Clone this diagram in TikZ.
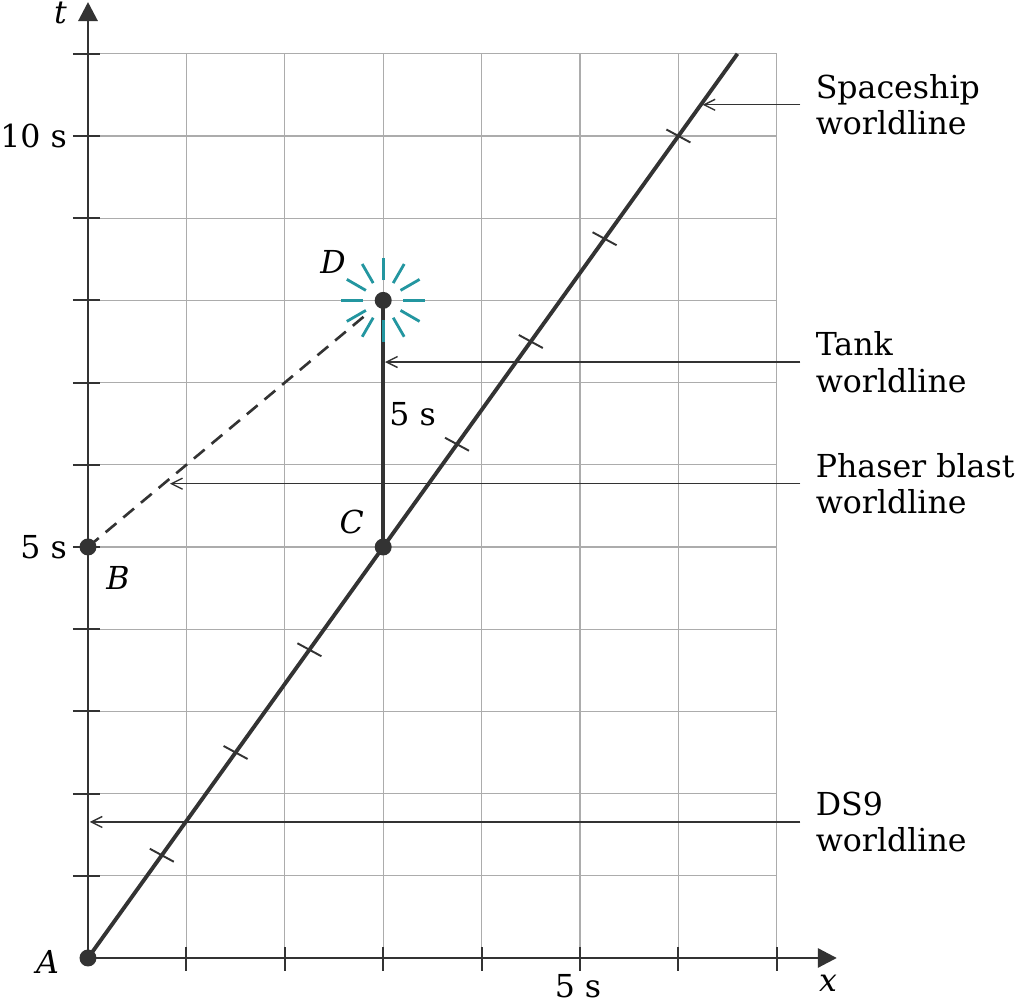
\documentclass[tikz,border=0pt]{standalone}
\usepackage{fontspec}
\setmainfont{DejaVu Serif}
\usepackage{tikz}
\usetikzlibrary{arrows.meta, positioning}
\definecolor{flash}{RGB}{35,150,160}

\begin{document}
\begin{tikzpicture}[x=1.968cm,y=1.644cm,
    font=\fontsize{18}{21}\selectfont,
    gridline/.style={gray!65,line width=0.7pt},
    axis/.style={black!80,line width=1.7pt,-{Triangle[width=0.38cm,length=0.38cm]}},
    axistick/.style={black!80,line width=1.2pt},
    worldline/.style={black!80,line width=2.2pt},
    propertick/.style={black!80,line width=1.1pt},
    event/.style={fill=black!80},
    pointer/.style={black!80,line width=0.8pt,-{Straight Barb[length=0.22cm,width=0.22cm]},shorten >=1pt},
    caption/.style={anchor=west,align=left,inner xsep=0.3cm,inner ysep=0pt}]
  \useasboundingbox (-1.76cm,-0.98cm) rectangle (18.72cm,19.16cm);
  % grid
  \foreach \i in {1,...,7} \draw[gridline] (\i,0) -- (\i,11);
  \foreach \j in {1,...,11} \draw[gridline] (0,\j) -- (7,\j);
  % axes
  \draw[axis] (0,0) -- (7.61,0);
  \draw[axis] (0,0) -- (0,11.63);
  \foreach \j in {1,...,11} \draw[axistick] ([xshift=-0.3cm]0,\j) -- ([xshift=0.24cm]0,\j);
  \foreach \i in {1,...,7} \draw[axistick] ([yshift=-0.26cm]\i,0) -- ([yshift=0.22cm]\i,0);
  \node (tlbl) at (-0.28,11.5) {\textit{t}};
  \node (xlbl) at (7.52,-0.31) {\textit{x}};
  \node[left=0.3cm] (tenlbl) at (0,10) {10 s};
  \node[left=0.3cm] (fivelbl) at (0,5) {5 s};
  \node[below=0.2cm] (xfivelbl) at (4.98,0) {5 s};
  % events
  \coordinate (A) at (0,0);
  \coordinate (B) at (0,5);
  \coordinate (C) at (3,5);
  \coordinate (D) at (3,8);
  \coordinate (shipend) at (6.6,11);
  % worldlines
  \draw[worldline] (A) -- (shipend);
  \foreach \k in {1,2,3,5,6,7,8}
    \draw[propertick] (0.75*\k,1.25*\k) ++(-0.24cm,0.13cm) -- ++(0.48cm,-0.26cm);
  \draw[worldline] (C) -- (D);
  \node[right=0pt] (tanktime) at (3,6.61) {5 s};
  \draw[black!80,line width=1.5pt,dash pattern=on 0.28cm off 0.18cm,shorten >=0.4cm] (B) -- (D);
  \foreach \a in {0,30,...,330}
    \draw[flash,line width=1.6pt] (D) ++(\a:0.4cm) -- ++(\a:0.44cm);
  \foreach \p in {A,B,C,D} \fill[event] (\p) circle (0.17cm);
  \node (Albl) at (-0.41,-0.05) {\textit{A}};
  \node (Blbl) at (0.305,4.62) {\textit{B}};
  \node (Clbl) at (2.68,5.30) {\textit{C}};
  \node (Dlbl) at (2.49,8.47) {\textit{D}};
  % captions
  \coordinate (shipmark) at (6.228,10.38);
  \coordinate (tankmark) at (3,7.25);
  \coordinate (phasermark) at (0.815,5.815);
  \coordinate (dsmark) at (0,1.655);
  \node[caption] (shiplbl) at (7.24,10.38) {Spaceship\\worldline};
  \node[caption] (tanklbl) at (7.24,7.25) {Tank\\worldline};
  \node[caption] (phaserlbl) at (7.24,5.77) {Phaser blast\\worldline};
  \node[caption] (dslbl) at (7.24,1.655) {DS9\\worldline};
  \draw[pointer] (shiplbl.west) -- (shipmark);
  \draw[pointer] (tanklbl.west) -- (tankmark);
  \draw[pointer] (phaserlbl.west) -- (phaserlbl.west -| phasermark);
  \draw[pointer] (dslbl.west) -- (dsmark);
\end{tikzpicture}
\end{document}
